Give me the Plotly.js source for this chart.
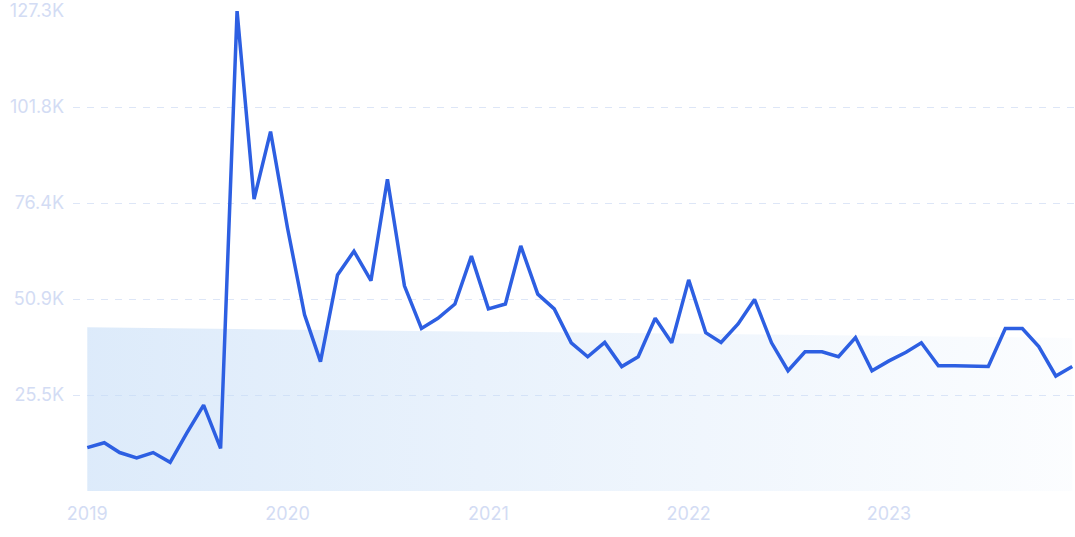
<!DOCTYPE html>
<html>
<head>
<meta charset="utf-8">
<script src="https://cdn.plot.ly/plotly-3.0.1.min.js"></script>
<style>
  html, body { margin: 0; padding: 0; background: #fff; }
  #chart { width: 1075px; height: 537px; }
</style>
</head>
<body>
<div id="chart"></div>
<script>
// ------------ INPUT DATA ------------
// monthly values, Jan 2019 .. Dec 2023
const months = [];
for (let y = 2019; y <= 2023; y++) {
  for (let m = 1; m <= 12; m++) {
    months.push(y + "-" + String(m).padStart(2, "0") + "-01");
  }
}

const values = [
  11500, 12800, 10200, 8800, 10200, 7600, 15300, 22800, 11300, 127300, 77400, 95300,
  69700, 46700, 34300, 57300, 63600, 55800, 82700, 54400, 43100, 45800, 49600, 62300,
  48300, 49600, 65000, 52200, 48300, 39300, 35600, 39400, 33000, 35600, 45800, 39300,
  56000, 42000, 39400, 44300, 50800, 39300, 31900, 36900, 36900, 35600, 40700, 31900,
  34500, 36800, 39300, 33200, 33200, 33200, 33000, 43100, 43100, 38300, 30500, 33000,
];

// trend line (start / end of the shaded band)
const trendX = ["2019-01-01", "2023-12-01"];
const trendY = [43400, 40600];

// y axis ticks
const yTickVals = [25460, 50920, 76380, 101840, 127300];
const yTickText = ["25.5K", "50.9K", "76.4K", "101.8K", "127.3K"];
// ------------ END INPUT DATA ------------

const trend = {
  x: trendX,
  y: trendY,
  type: "scatter",
  mode: "lines",
  fill: "tozeroy",
  line: { width: 0 },
  fillgradient: {
    type: "horizontal",
    colorscale: [
      [0, "rgba(196, 220, 247, 0.58)"],
      [1, "rgba(196, 220, 247, 0.06)"],
    ],
  },
  hoverinfo: "none",
};

const line = {
  x: months,
  y: values,
  type: "scatter",
  mode: "lines",
  line: { color: "#2d5fe2", width: 3.5 },
  hoverinfo: "none",
};

const layout = {
  width: 1075,
  height: 537,
  margin: { t: 11, b: 46, l: 73, r: 0 },
  paper_bgcolor: "#ffffff",
  plot_bgcolor: "#ffffff",
  showlegend: false,
  font: { family: "Inter, 'Noto Sans', sans-serif", size: 18, color: "#d3dcf4" },
  xaxis: {
    type: "date",
    range: ["2018-12-06", "2023-12-06"],
    tickvals: ["2019-01-01", "2020-01-01", "2021-01-01", "2022-01-01", "2023-01-01"],
    ticktext: ["2019", "2020", "2021", "2022", "2023"],
    showgrid: false,
    zeroline: false,
    showline: false,
    ticklabelstandoff: 10,
  },
  yaxis: {
    range: [0, 127300],
    tickvals: yTickVals,
    ticktext: yTickText,
    showgrid: true,
    gridcolor: "#dde6f7",
    griddash: "7px,7px",
    gridwidth: 1,
    zeroline: false,
    showline: false,
    ticklabelstandoff: 8,
  },
};

Plotly.newPlot("chart", [trend, line], layout, { displayModeBar: false, staticPlot: true });
</script>
</body>
</html>
